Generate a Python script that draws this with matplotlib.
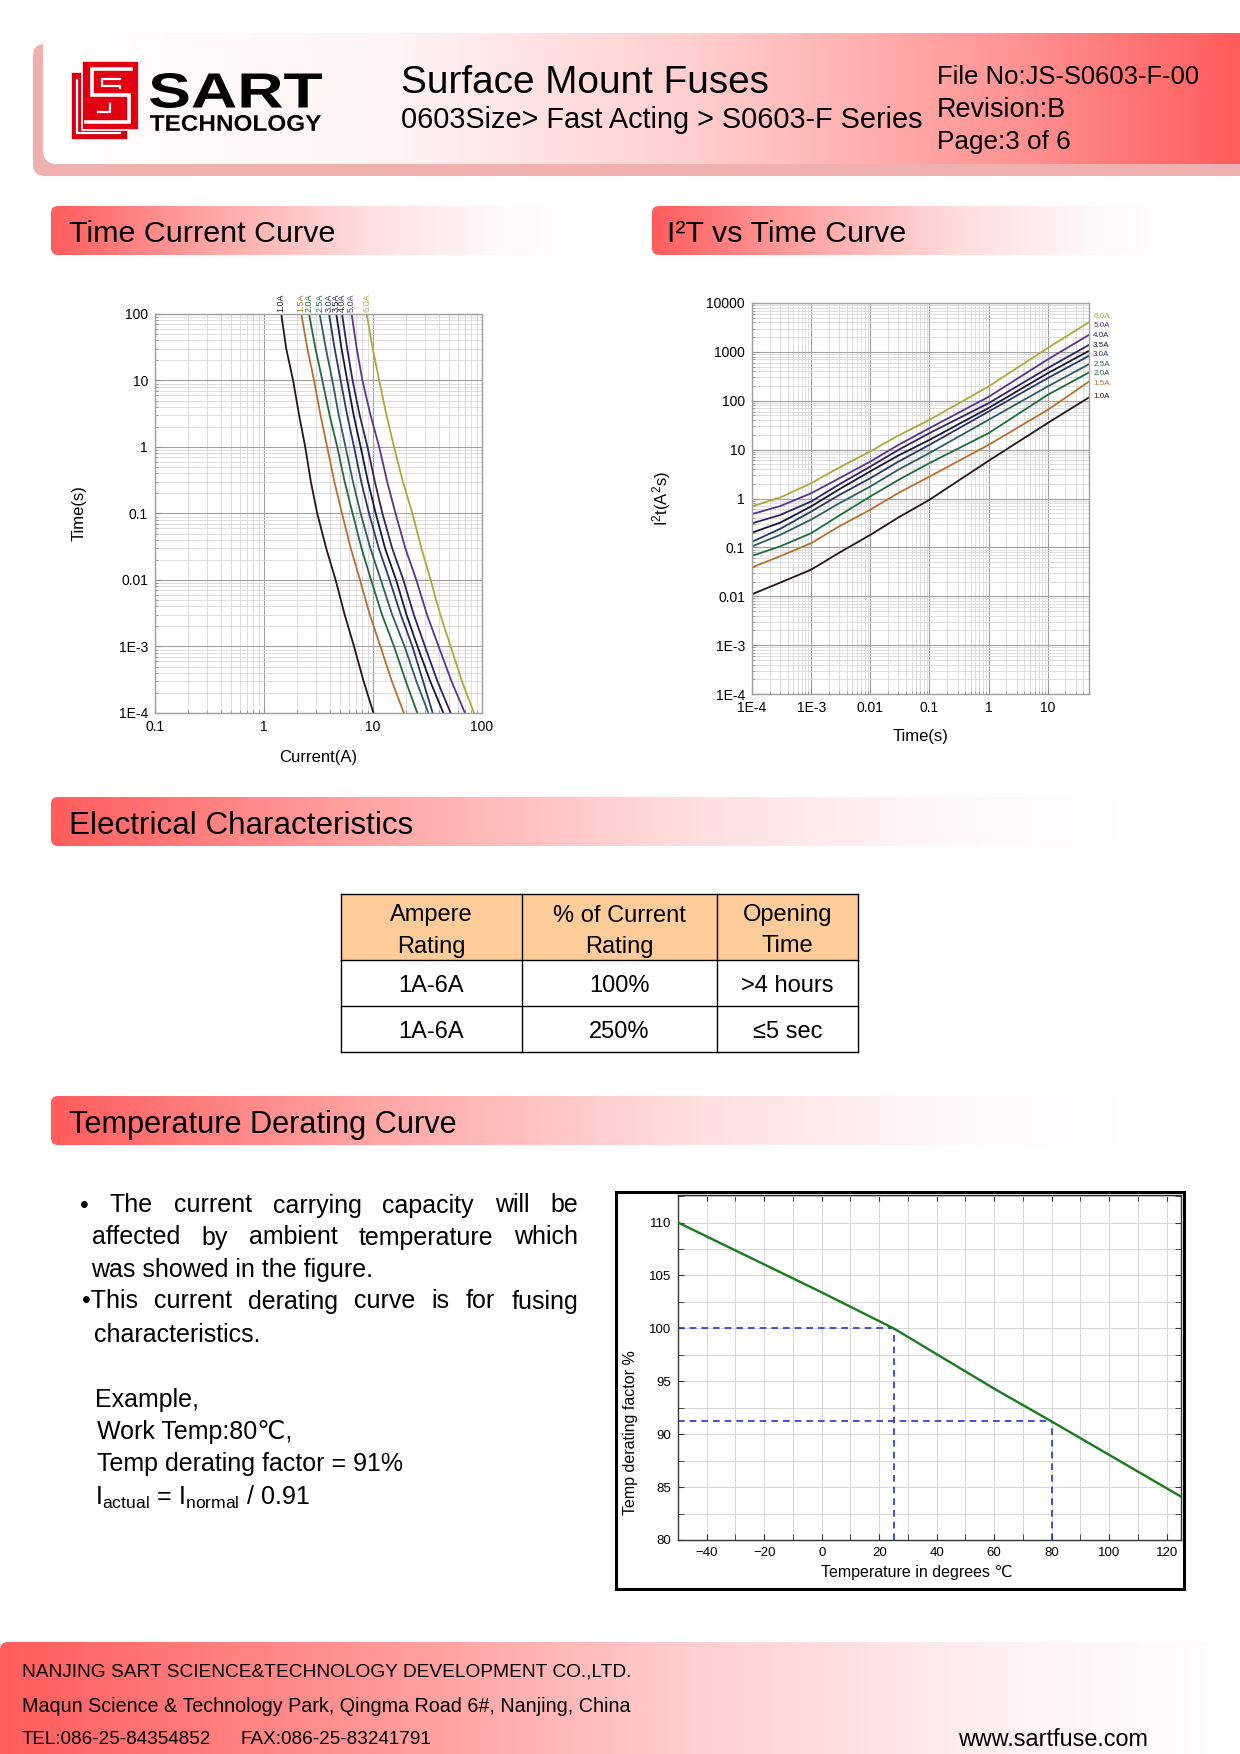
import numpy as np
import matplotlib
matplotlib.use('Agg')
import matplotlib.pyplot as plt
from matplotlib.patches import Rectangle, FancyBboxPatch, PathPatch
from matplotlib.textpath import TextPath
from matplotlib.font_manager import FontProperties
from matplotlib.transforms import Affine2D
from matplotlib.ticker import LogLocator, NullFormatter, MultipleLocator

plt.rcParams['font.family'] = ['Liberation Sans', 'DejaVu Sans']
plt.rcParams['mathtext.fontset'] = 'custom'
plt.rcParams['mathtext.rm'] = 'Liberation Sans'
plt.rcParams['mathtext.it'] = 'Liberation Sans:italic'
plt.rcParams['mathtext.bf'] = 'Liberation Sans:bold'

# ---------------- data ----------------
ratings = ['1.0A', '1.5A', '2.0A', '2.5A', '3.0A', '3.5A', '4.0A', '5.0A', '6.0A']
curve_colors = ['#231616', '#b8702e', '#1f6b3a', '#2c5f5f', '#26396f',
                '#16163a', '#33206a', '#5a3390', '#aaaa3a']

# Time-current curve: current (A) that opens the fuse at each time (s)
tc_times = [100, 30, 10, 3, 1, 0.3, 0.1, 0.03, 0.01, 0.003, 1e-3, 3e-4, 1e-4]
tc_1_0A = [1.44, 1.6, 1.85, 2.1, 2.39, 2.69, 3.08, 3.72, 4.54, 5.5, 6.7, 8.2, 10.1]
tc_1_5A = [2.2, 2.5, 2.88, 3.3, 3.8, 4.42, 5.2, 6.25, 7.6, 9.35, 11.7, 14.9, 19.2]
tc_2_0A = [2.59, 2.97, 3.43, 4.0, 4.7, 5.5, 6.5, 7.85, 9.6, 12.1, 15.6, 20.0, 25.5]
tc_2_5A = [3.24, 3.7, 4.24, 4.85, 5.6, 6.55, 7.7, 9.45, 11.8, 15.0, 19.5, 25.0, 32.2]
tc_3_0A = [3.95, 4.45, 5.05, 5.8, 6.7, 7.8, 9.2, 11.3, 14.2, 18.0, 23.0, 28.8, 35.3]
tc_3_5A = [4.6, 5.15, 5.8, 6.65, 7.7, 9.0, 10.6, 12.9, 16.3, 20.3, 25.6, 33.5, 44.2]
tc_4_0A = [5.2, 5.8, 6.5, 7.55, 8.9, 10.4, 12.2, 15.0, 19.0, 23.7, 30.0, 39.0, 51.6]
tc_5_0A = [6.37, 7.1, 8.0, 9.5, 11.4, 13.5, 16.1, 19.8, 25.0, 31.3, 40.0, 52.5, 69.8]
tc_6_0A = [8.75, 9.95, 11.4, 13.3, 15.6, 18.8, 23.0, 27.8, 33.8, 41.5, 51.6, 65.5, 84.5]
tc_series = [tc_1_0A, tc_1_5A, tc_2_0A, tc_2_5A, tc_3_0A, tc_3_5A, tc_4_0A, tc_5_0A, tc_6_0A]
tc_xticks = [0.1, 1, 10, 100]
tc_xticklabels = ['0.1', '1', '10', '100']
tc_yticks = [1e-4, 1e-3, 0.01, 0.1, 1, 10, 100]
tc_yticklabels = ['1E-4', '1E-3', '0.01', '0.1', '1', '10', '100']

# I2t vs time
i2t_times = [1e-4, 3e-4, 1e-3, 3e-3, 0.01, 0.03, 0.1, 1, 10, 50]
i2t_1_0A = [0.011, 0.019, 0.035, 0.078, 0.18, 0.41, 0.94, 5.9, 35, 117]
i2t_1_5A = [0.039, 0.066, 0.122, 0.27, 0.59, 1.3, 2.8, 12.5, 65, 247]
i2t_2_0A = [0.067, 0.105, 0.195, 0.45, 1.1, 2.4, 5.3, 21.7, 132, 380]
i2t_2_5A = [0.105, 0.18, 0.37, 0.8, 1.76, 3.9, 8.5, 40.7, 196, 560]
i2t_3_0A = [0.13, 0.24, 0.54, 1.18, 2.6, 5.7, 12.5, 60, 290, 830]
i2t_3_5A = [0.2, 0.32, 0.69, 1.55, 3.6, 7.6, 15.8, 71, 365, 1050]
i2t_4_0A = [0.31, 0.46, 0.87, 1.95, 4.5, 9.9, 21.7, 89, 465, 1390]
i2t_5_0A = [0.48, 0.7, 1.28, 2.6, 5.7, 12.5, 27.5, 120, 700, 2230]
i2t_6_0A = [0.69, 1.05, 2.06, 4.3, 9.2, 19.5, 40.7, 196, 1200, 4060]
i2t_series = [i2t_1_0A, i2t_1_5A, i2t_2_0A, i2t_2_5A, i2t_3_0A, i2t_3_5A, i2t_4_0A, i2t_5_0A, i2t_6_0A]
i2t_xticks = [1e-4, 1e-3, 0.01, 0.1, 1, 10]
i2t_xticklabels = ['1E-4', '1E-3', '0.01', '0.1', '1', '10']
i2t_yticks = [1e-4, 1e-3, 0.01, 0.1, 1, 10, 100, 1000, 10000]
i2t_yticklabels = ['1E-4', '1E-3', '0.01', '0.1', '1', '10', '100', '1000', '10000']

# Temperature derating
derate_temp = [-50, 0, 25, 60, 80, 125]
derate_factor = [110, 103.4, 100, 94.3, 91.2, 84.1]
example_temp = [25, 80]
example_factor = [100, 91.2]

# Table
table_header = [('Ampere', 'Rating'), ('% of Current', 'Rating'), ('Opening', 'Time')]
table_rows = [['1A-6A', '100%', '>4 hours'], ['1A-6A', '250%', '≤5 sec']]

# label nudges (points, vertical) for the crowded I2t end labels -- style only
i2t_label_dy = [0.4, -1.1, -0.8, 0.1, 0.9, 4.2, 6.8, 6.4, 4.0]

# ---------------- page ----------------
W, H = 1240, 1754
fig = plt.figure(figsize=(W / 100, H / 100), dpi=100)
bg = fig.add_axes([0, 0, 1, 1])
bg.set_xlim(0, W)
bg.set_ylim(H, 0)
bg.axis('off')
bg.set_autoscale_on(False)
renderer = fig.canvas.get_renderer()


def box_axes(l, t, r, b):
    return fig.add_axes([l / W, 1 - b / H, (r - l) / W, (b - t) / H])


def hgrad(x0, y0, x1, y1, stops, clip=None, z=0):
    n = 600
    xs = np.linspace(0, 1, n)
    pos = [s[0] for s in stops]
    cols = np.array([s[1] for s in stops]) / 255.0
    img = np.zeros((2, n, 3))
    for c in range(3):
        img[:, :, c] = np.interp(xs, pos, cols[:, c])
    im = bg.imshow(img, extent=(x0, x1, y1, y0), aspect='auto', zorder=z,
                   interpolation='bilinear')
    if clip is not None:
        im.set_clip_path(clip)
    return im


def fit_text(x, y, s, width, ha='left', **kw):
    t = bg.text(x, y, s, fontsize=10, ha=ha, **kw)
    w = t.get_window_extent(renderer).width
    t.set_fontsize(10 * width / w)
    return t


def justify(words, x0, x1, y, size):
    texts = [bg.text(0, y, w, fontsize=size, va='center_baseline', ha='left') for w in words]
    widths = [t.get_window_extent(renderer).width for t in texts]
    gap = (x1 - x0 - sum(widths)) / (len(words) - 1)
    x = x0
    for t, w in zip(texts, widths):
        t.set_x(x)
        x += w + gap


RED = (255, 92, 92)
WHITE = (255, 255, 255)

# ---- header ----
shadow = FancyBboxPatch((33, 44), W, 132, boxstyle='round,pad=0,rounding_size=12',
                        fc='#f0b0b0', ec='none', zorder=0)
bg.add_patch(shadow)
main = FancyBboxPatch((43, 33), W, 131, boxstyle='round,pad=0,rounding_size=14',
                      fc='none', ec='none', zorder=1)
bg.add_patch(main)
hgrad(43, 33, W, 164, [(0, WHITE), (0.3, (255, 243, 243)), (0.55, (255, 205, 205)),
                       (0.8, (255, 150, 150)), (1, RED)], clip=main, z=1)

# logo
bg.add_patch(Rectangle((71, 72), 57, 68, fc='#d50010', ec='white', lw=1.2, zorder=3))
bg.add_patch(Rectangle((82, 61), 57, 69, fc='#e00012', ec='white', lw=1.2, zorder=3))
bg.plot([131, 92, 92, 129, 129, 86], [69, 69, 95, 95, 122, 122], color='white', lw=2.6,
        zorder=4, solid_joinstyle='miter')
bg.plot([120, 102, 102, 120, 120], [79, 79, 86, 86, 88], color='white', lw=1.6, zorder=4)
bg.plot([77, 77, 120], [80, 133, 133], color='white', lw=1.6, zorder=4)
bg.plot([110, 110, 98], [104, 112, 112], color='white', lw=1.6, zorder=4)

fpb = FontProperties(family='Liberation Sans', weight='bold')
for s, (x0, y0, x1, y1) in [('SART', (150, 73, 322, 108)), ('TECHNOLOGY', (150, 115, 321, 131))]:
    tp = TextPath((0, 0), s, size=100, prop=fpb)
    bb = tp.get_extents()
    tr = Affine2D().translate(-bb.x0, -bb.y0).scale((x1 - x0) / bb.width, -(y1 - y0) / bb.height) \
        .translate(x0, y1) + bg.transData
    bg.add_patch(PathPatch(tp, fc='black', ec='none', transform=tr, zorder=4))

fit_text(401, 79, 'Surface Mount Fuses', 370, va='center_baseline', zorder=5)
fit_text(401, 117, '0603Size> Fast Acting > S0603-F Series', 522, va='center_baseline', zorder=5)
fit_text(937, 75, 'File No:JS-S0603-F-00', 262, va='center_baseline', zorder=5)
fit_text(937, 107, 'Revision:B', 129, va='center_baseline', zorder=5)
fit_text(937, 139, 'Page:3 of 6', 134, va='center_baseline', zorder=5)

# ---- section bars ----
SEC = [(0, RED), (0.3, (255, 165, 165)), (0.6, (255, 222, 222)), (0.85, (255, 248, 248)), (1, WHITE)]


def section(x0, y0, x1, y1, label, tx, twidth):
    p = FancyBboxPatch((x0, y0), x1 - x0, y1 - y0, boxstyle='round,pad=0,rounding_size=7',
                       fc='none', ec='none', zorder=1)
    bg.add_patch(p)
    hgrad(x0, y0, x1, y1, SEC, clip=p, z=1)
    fit_text(tx, (y0 + y1) / 2 + 1, label, twidth, va='center_baseline', zorder=3)


section(51, 206, 575, 255, 'Time Current Curve', 69, 268)
section(652, 206, 1172, 255, 'I²T vs Time Curve', 667, 240)
section(51, 797, 1118, 846, 'Electrical Characteristics', 69, 345)
section(51, 1096, 1118, 1145, 'Temperature Derating Curve', 69, 390)

# ---- time current chart ----
ax1 = box_axes(155, 314, 482, 713)
for vals, col, lab in zip(tc_series, curve_colors, ratings):
    ax1.plot(vals, tc_times, color=col, lw=1.3)
    ax1.annotate(lab, xy=(vals[0], tc_times[0]), xytext=(0, 1.5), textcoords='offset points',
                 rotation=90, ha='center', va='bottom', fontsize=6.5, color=col)
ax1.set_xscale('log')
ax1.set_yscale('log')
ax1.set_xlim(0.1, 100)
ax1.set_ylim(1e-4, 100)
ax1.set_xticks(tc_xticks, tc_xticklabels)
ax1.set_yticks(tc_yticks, tc_yticklabels)

# ---- I2t chart ----
ax2 = box_axes(752, 303, 1089, 694)
for vals, col, lab, dy in zip(i2t_series, curve_colors, ratings, i2t_label_dy):
    ax2.plot(i2t_times, vals, color=col, lw=1.3)
    ax2.annotate(lab, xy=(i2t_times[-1], vals[-1]), xytext=(3, dy), textcoords='offset points',
                 ha='left', va='center', fontsize=5.8, color=col, annotation_clip=False)
ax2.set_xscale('log')
ax2.set_yscale('log')
ax2.set_xlim(1e-4, 50)
ax2.set_ylim(1e-4, 1e4)
ax2.set_xticks(i2t_xticks, i2t_xticklabels)
ax2.set_yticks(i2t_yticks, i2t_yticklabels)

for ax in (ax1, ax2):
    ax.xaxis.set_minor_locator(LogLocator(base=10, subs=np.arange(2, 10), numticks=100))
    ax.yaxis.set_minor_locator(LogLocator(base=10, subs=np.arange(2, 10), numticks=100))
    ax.xaxis.set_minor_formatter(NullFormatter())
    ax.yaxis.set_minor_formatter(NullFormatter())
    ax.grid(which='major', color='#a0a0a0', lw=0.8)
    ax.grid(which='minor', color='#d8d8d8', lw=0.6)
    ax.set_axisbelow(True)
    for sp in ax.spines.values():
        sp.set_color('#a0a0a0')
        sp.set_linewidth(1.0)
    ax.tick_params(which='both', direction='in', color='#909090', labelsize=10, pad=5)
    ax.tick_params(which='major', length=4)
    ax.tick_params(which='minor', length=2)

ax1.set_xlabel('Current(A)', fontsize=12)
ax1.set_ylabel('Time(s)', fontsize=12)
ax1.xaxis.set_label_coords(0.5, -0.092)
ax1.yaxis.set_label_coords(-0.21, 0.5)
ax2.set_xlabel('Time(s)', fontsize=12)
ax2.set_ylabel('I$^2$t(A$^2$s)', fontsize=12)
ax2.xaxis.set_label_coords(0.5, -0.09)
ax2.yaxis.set_label_coords(-0.235, 0.5)

# ---- table ----
tl, tr_, tt, tb = 341, 858, 894, 1052
col_x = [341, 522, 717, 858]
row_y = [894, 960, 1006, 1052]
bg.add_patch(Rectangle((tl, row_y[0]), tr_ - tl, row_y[1] - row_y[0], fc='#fdcc98', ec='none', zorder=2))
for y in row_y:
    bg.plot([tl, tr_], [y, y], color='black', lw=1.0, zorder=3)
for x in col_x:
    bg.plot([x, x], [tt, tb], color='black', lw=1.0, zorder=3)
for i, (l1, l2) in enumerate(table_header):
    cx = (col_x[i] + col_x[i + 1]) / 2
    bg.text(cx, 913, l1, fontsize=17, ha='center', va='center_baseline', zorder=4)
    bg.text(cx, 944, l2, fontsize=17, ha='center', va='center_baseline', zorder=4)
for r, row in enumerate(table_rows):
    cy = (row_y[r + 1] + row_y[r + 2]) / 2
    for i, s in enumerate(row):
        cx = (col_x[i] + col_x[i + 1]) / 2
        bg.text(cx, cy + 1, s, fontsize=17, ha='center', va='center_baseline', zorder=4)

# ---- paragraph ----
PS = 18
justify(['•', 'The', 'current', 'carrying', 'capacity', 'will', 'be'], 80, 578, 1203, PS)
justify(['affected', 'by', 'ambient', 'temperature', 'which'], 92, 578, 1235, PS)
bg.text(91, 1267, 'was showed in the figure.', fontsize=PS, va='center_baseline')
justify(['•This', 'current', 'derating', 'curve', 'is', 'for', 'fusing'], 82, 578, 1299, PS)
bg.text(94, 1332, 'characteristics.', fontsize=PS, va='center_baseline')
bg.text(95, 1397, 'Example,', fontsize=PS, va='center_baseline')
bg.text(97, 1429, 'Work Temp:80℃,', fontsize=PS, va='center_baseline')
bg.text(97, 1462, 'Temp derating factor = 91%', fontsize=PS, va='center_baseline')
bg.text(95, 1494, r'I$_{\mathrm{actual}}$ = I$_{\mathrm{normal}}$ / 0.91', fontsize=PS,
        va='center_baseline')

# ---- derating chart ----
bg.add_patch(Rectangle((616, 1192), 568, 397, fc='none', ec='black', lw=2.2, zorder=6))
ax3 = box_axes(678, 1195, 1181, 1540)
ax3.plot(derate_temp, derate_factor, color='#1d7a1d', lw=1.7, zorder=3)
xmin, ymin = -50, 80
for t, f in zip(example_temp, example_factor):
    ax3.plot([xmin, t], [f, f], color='#2233dd', lw=1.2, ls=(0, (4, 3)), zorder=2)
    ax3.plot([t, t], [ymin, f], color='#2233dd', lw=1.2, ls=(0, (4, 3)), zorder=2)
ax3.set_xlim(-50, 125)
ax3.set_ylim(80, 112.6)
ax3.set_xticks(range(-40, 121, 20))
ax3.set_yticks(range(80, 111, 5))
ax3.xaxis.set_minor_locator(MultipleLocator(10))
ax3.yaxis.set_minor_locator(MultipleLocator(2.5))
ax3.grid(which='both', color='#d6d6d6', lw=0.7)
ax3.set_axisbelow(True)
ax3.tick_params(which='both', direction='in', top=True, right=True, length=4,
                labelsize=9.5, color='#333333', pad=5)
for sp in ax3.spines.values():
    sp.set_color('#333333')
    sp.set_linewidth(1.0)
ax3.set_xlabel('Temperature in degrees ℃', fontsize=11.5)
ax3.set_ylabel('Temp derating factor %', fontsize=11.5)
ax3.xaxis.set_label_coords(0.475, -0.072)
ax3.yaxis.set_label_coords(-0.08, 0.31)

# ---- footer ----
foot = FancyBboxPatch((0, 1642), W + 20, 140, boxstyle='round,pad=0,rounding_size=8',
                      fc='none', ec='none', zorder=1)
bg.add_patch(foot)
hgrad(0, 1642, W, H, [(0, RED), (0.3, (255, 150, 150)), (0.55, (255, 205, 205)),
                      (0.8, (255, 240, 240)), (1, WHITE)], clip=foot, z=1)
fit_text(22, 1670, 'NANJING SART SCIENCE&TECHNOLOGY DEVELOPMENT CO.,LTD.', 610,
         va='center_baseline', zorder=3)
fit_text(22, 1704, 'Maqun Science & Technology Park, Qingma Road 6#, Nanjing, China', 610,
         va='center_baseline', zorder=3)
fit_text(22, 1737, 'TEL:086-25-84354852', 190, va='center_baseline', zorder=3)
fit_text(241, 1737, 'FAX:086-25-83241791', 190, va='center_baseline', zorder=3)
fit_text(958, 1737, 'www.sartfuse.com', 190, va='center_baseline', zorder=3)

bg.set_xlim(0, W)
bg.set_ylim(H, 0)
fig.savefig('out.png', dpi=100)
